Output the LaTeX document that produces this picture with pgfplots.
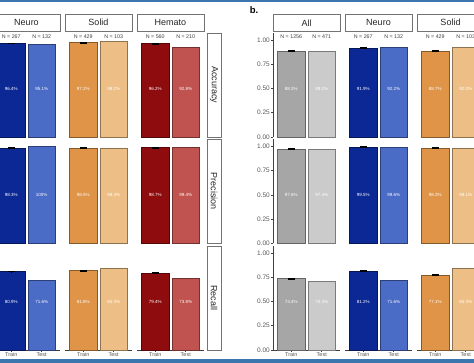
\documentclass[border=0pt]{standalone}
\usepackage{fontspec}
\setmainfont{Liberation Sans}
\usepackage{pgfplots}
\pgfplotsset{compat=1.18}
\definecolor{Neurotr}{HTML}{0B2894}
\definecolor{Neurote}{HTML}{4A6BC6}
\definecolor{Solidtr}{HTML}{DF9448}
\definecolor{Solidte}{HTML}{EDBF86}
\definecolor{Hematotr}{HTML}{8E0B0E}
\definecolor{Hematote}{HTML}{C0534F}
\definecolor{Alltr}{HTML}{A6A6A6}
\definecolor{Allte}{HTML}{CBCBCB}
\definecolor{bandblue}{HTML}{3C76AE}
\pgfplotsset{
  facet/.style={scale only axis, width=67pt, height=104pt, anchor=south west,
    xmin=0.4, xmax=2.6, ymin=0, ymax=1.072, clip=false,
    axis lines=left, axis line style={-, black!75, line width=0.6pt},
    hide x axis, hide y axis,
    tick align=outside, major tick length=2pt,
    tick style={black!75, line width=0.6pt},
    /pgf/number format/assume math mode=true},
  bottomrow/.style={hide x axis=false,
    xtick={1,2}, xticklabels={Train,Test},
    xticklabel style={font=\fontsize{5.5}{6}\selectfont, inner sep=0.5pt, text=black!65}},
  leftcol/.style={hide y axis=false,
    ytick={0,0.25,0.5,0.75,1},
    yticklabel style={font=\fontsize{6.5}{7}\selectfont, inner sep=1pt, text=black!65,
      /pgf/number format/fixed, /pgf/number format/fixed zerofill, /pgf/number format/precision=2}},
  pctlab/.style={draw=none, mark=none, nodes near coords, point meta=explicit symbolic,
    every node near coord/.append style={anchor=center, text=white, font=\fontsize{4.5}{5}\selectfont}},
  nlab/.style={draw=none, mark=none, nodes near coords, point meta=explicit symbolic,
    every node near coord/.append style={anchor=center, text=black!75, font=\fontsize{5.3}{6}\selectfont, inner sep=0pt}},
}
% #1 x, #2 y, #3 colour group, #4 train, #5 test, #6 train label, #7 test label, #8 axis options, #9 extra
\newcommand{\facet}[9]{%
\begin{axis}[facet, at={(#1pt,#2pt)}, #8]
\addplot[ybar, bar width=0.9, bar shift=0pt, fill=#3tr, draw=#3tr!60!black, line width=0.6pt,
  error bars/.cd, y dir=both, y explicit,
  error mark options={rotate=90, mark size=3.5pt, line width=1pt, black},
  error bar style={line width=1pt, black}] coordinates {(1,#4) +- (0,0.004)};
\addplot[ybar, bar width=0.9, bar shift=0pt, fill=#3te, draw=#3te!60!black, line width=0.6pt] coordinates {(2,#5)};
\addplot[pctlab] coordinates {(1,0.5)[#6] (2,0.5)[#7]};
#9
\end{axis}}
\newcommand{\strip}[2]{%
\draw[black!55, line width=0.8pt, fill=white] (#1pt,332pt) rectangle ++(67pt,16.5pt);
\node[font=\fontsize{9}{10}\selectfont, text=black!85] at ([xshift=33.5pt]#1pt,340.25pt) {#2};}
\newcommand{\rowstrip}[2]{%
\draw[black!55, line width=0.8pt, fill=white] (207pt,#1pt) rectangle ++(14pt,104pt);
\node[rotate=-90, font=\fontsize{9}{10}\selectfont, text=black!85] at ([yshift=52pt]214pt,#1pt) {#2};}
\begin{document}
\begin{tikzpicture}
\useasboundingbox (0pt,0pt) rectangle (474pt,363pt);
\clip (0pt,0pt) rectangle (474pt,363pt);
\fill[white] (0pt,0pt) rectangle (474pt,363pt);
% ---------- panel a (left, cut) ----------
% Accuracy
\facet{-7}{226}{Neuro}{0.964}{0.951}{96.4\%}{95.1\%}{}{\addplot[nlab] coordinates {(1,1.035)[N = 267] (2,1.035)[N = 132]};}
\facet{65}{226}{Solid}{0.972}{0.982}{97.2\%}{98.2\%}{}{\addplot[nlab] coordinates {(1,1.035)[N = 429] (2,1.035)[N = 103]};}
\facet{137}{226}{Hemato}{0.962}{0.928}{96.2\%}{92.8\%}{}{\addplot[nlab] coordinates {(1,1.035)[N = 560] (2,1.035)[N = 210]};}
% Precision
\facet{-7}{119.5}{Neuro}{0.983}{1.000}{98.3\%}{100\%}{}{}
\facet{65}{119.5}{Solid}{0.985}{0.983}{98.5\%}{98.3\%}{}{}
\facet{137}{119.5}{Hemato}{0.987}{0.994}{98.7\%}{99.4\%}{}{}
% Recall
\facet{-7}{13}{Neuro}{0.809}{0.716}{80.9\%}{71.6\%}{bottomrow}{}
\facet{65}{13}{Solid}{0.818}{0.843}{81.8\%}{84.3\%}{bottomrow}{}
\facet{137}{13}{Hemato}{0.794}{0.738}{79.4\%}{73.8\%}{bottomrow}{}
\strip{-7}{Neuro}
\strip{65}{Solid}
\strip{137}{Hemato}
\rowstrip{226}{Accuracy}
\rowstrip{119.5}{Precision}
\rowstrip{13}{Recall}
% ---------- panel b (right, cut) ----------
\facet{273}{226}{All}{0.883}{0.882}{88.3\%}{88.2\%}{leftcol}{\addplot[nlab] coordinates {(1,1.035)[N = 1256] (2,1.035)[N = 471]};}
\facet{345}{226}{Neuro}{0.919}{0.922}{91.9\%}{92.2\%}{}{\addplot[nlab] coordinates {(1,1.035)[N = 267] (2,1.035)[N = 132]};}
\facet{417}{226}{Solid}{0.887}{0.920}{88.7\%}{92.0\%}{}{\addplot[nlab] coordinates {(1,1.035)[N = 429] (2,1.035)[N = 103]};}
\facet{273}{119.5}{All}{0.976}{0.974}{97.6\%}{97.4\%}{leftcol}{}
\facet{345}{119.5}{Neuro}{0.995}{0.996}{99.5\%}{99.6\%}{}{}
\facet{417}{119.5}{Solid}{0.983}{0.981}{98.3\%}{98.1\%}{}{}
\facet{273}{13}{All}{0.734}{0.703}{73.4\%}{70.3\%}{leftcol,bottomrow}{}
\facet{345}{13}{Neuro}{0.812}{0.716}{81.2\%}{71.6\%}{bottomrow}{}
\facet{417}{13}{Solid}{0.771}{0.843}{77.1\%}{84.3\%}{bottomrow}{}
\strip{273}{All}
\strip{345}{Neuro}
\strip{417}{Solid}
\node[font=\bfseries\fontsize{9.5}{10}\selectfont] at (254pt,353pt) {b.};
% page frame bands
\fill[bandblue] (0pt,360.7pt) rectangle (474pt,363pt);
\fill[bandblue] (0pt,0pt) rectangle (474pt,4pt);
\end{tikzpicture}
\end{document}
